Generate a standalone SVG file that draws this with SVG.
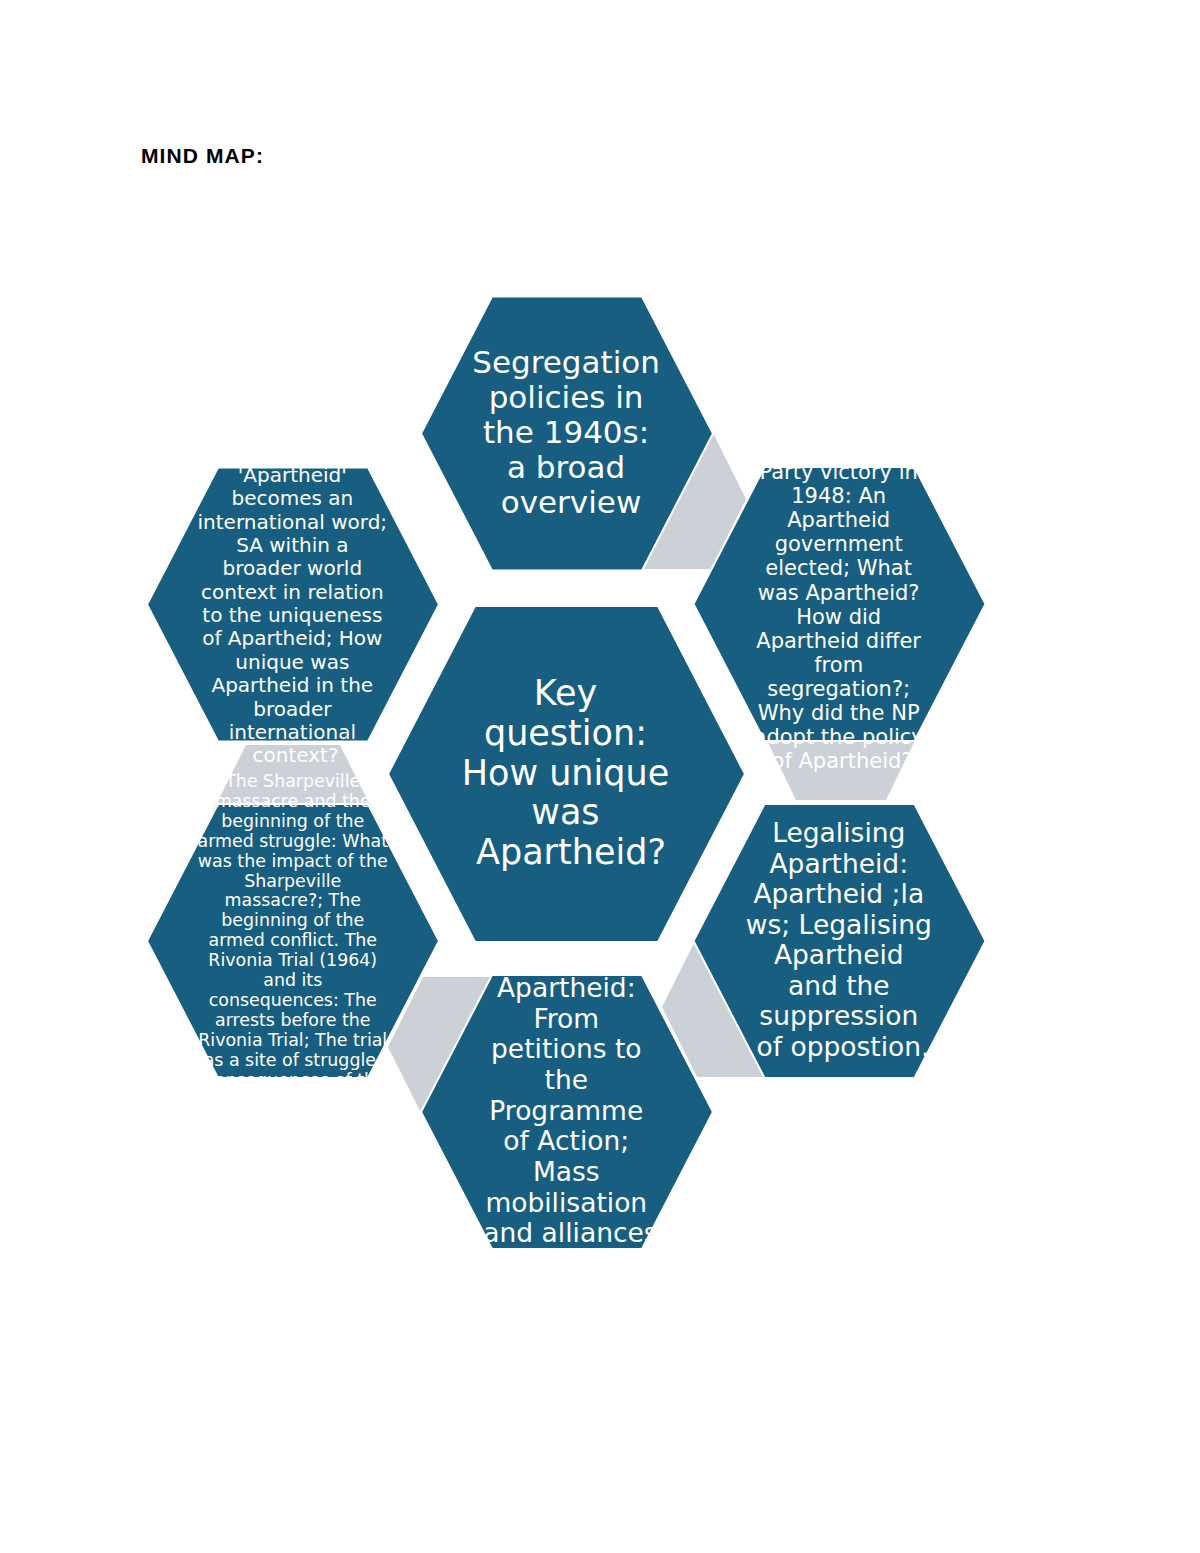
<svg xmlns="http://www.w3.org/2000/svg" width="1200" height="1553" viewBox="0 0 1200 1553">
<style>
.hex{fill:#175E80;stroke:#FFFFFF;stroke-width:2;stroke-linejoin:miter}
.con{fill:#CCD1D8;stroke:none}
.t{font-family:"DejaVu Sans","Liberation Sans",sans-serif;fill:#FFFFFF;text-anchor:middle}
.title{font-family:"Liberation Sans",Arial,sans-serif;font-weight:bold;font-size:21px;letter-spacing:1.1px;fill:#000000}
</style>
<rect x="0" y="0" width="1200" height="1553" fill="#FFFFFF"/>
<text class="title" x="141" y="163">MIND MAP:</text>

<g id="connectors">
<polygon class="con" points="621,429 711,429 746,499 711,569 621,569 586,499"/>
<polygon class="con" points="796,660 886,660 920,730 886,800 796,800 762,730"/>
<polygon class="con" points="697,937 787,937 822,1007 787,1077 697,1077 662,1007"/>
<polygon class="con" points="423,977 513,977 548,1047 513,1117 423,1117 388,1047"/>
<polygon class="con" points="246,745 340,745 375,815 340,885 246,885 211,815"/>
</g>

<g id="node-center">
<polygon class="hex" points="475,606 658,606 745,774 658,942 475,942 388,774"/>
</g>
<g id="node-top">
<polygon class="hex" points="492,296.5 642,296.5 713,433.5 642,570.5 492,570.5 421,433.5"/>
</g>
<g id="node-right-top">
<polygon class="hex" points="764.5,467 914.5,467 985.5,604 914.5,741 764.5,741 693.5,604"/>
</g>
<g id="node-right-bottom">
<polygon class="hex" points="764.5,804 914.5,804 985.5,941 914.5,1078 764.5,1078 693.5,941"/>
</g>
<g id="node-bottom">
<polygon class="hex" points="492,975 642,975 713,1112 642,1249 492,1249 421,1112"/>
</g>
<g id="node-left-bottom">
<polygon class="hex" points="218,804 368,804 439,941 368,1078 218,1078 147,941"/>
</g>
<g id="node-left-top">
<polygon class="hex" points="218,467.5 368,467.5 439,604.5 368,741.5 218,741.5 147,604.5"/>
</g>

<g id="labels">
<text class="t" font-size="35">
<tspan x="571" y="705">Key</tspan>
<tspan x="571" y="745">question:</tspan>
<tspan x="571" y="785">How unique</tspan>
<tspan x="571" y="824">was</tspan>
<tspan x="571" y="864">Apartheid?</tspan>
</text>
<text class="t" font-size="31">
<tspan x="571" y="373">Segregation</tspan>
<tspan x="571" y="408">policies in</tspan>
<tspan x="571" y="443">the 1940s:</tspan>
<tspan x="571" y="478">a broad</tspan>
<tspan x="571" y="513">overview</tspan>
</text>
<text class="t" font-size="21">
<tspan x="842" y="479">Party victory in</tspan>
<tspan x="842" y="503">1948: An</tspan>
<tspan x="842" y="527">Apartheid</tspan>
<tspan x="842" y="551">government</tspan>
<tspan x="842" y="575">elected; What</tspan>
<tspan x="842" y="600">was Apartheid?</tspan>
<tspan x="842" y="624">How did</tspan>
<tspan x="842" y="648">Apartheid differ</tspan>
<tspan x="842" y="672">from</tspan>
<tspan x="842" y="696">segregation?;</tspan>
<tspan x="842" y="720">Why did the NP</tspan>
<tspan x="842" y="744">adopt the policy</tspan>
<tspan x="842" y="768">of Apartheid?</tspan>
</text>
<text class="t" font-size="26.5">
<tspan x="843" y="842">Legalising</tspan>
<tspan x="843" y="873">Apartheid:</tspan>
<tspan x="843" y="903">Apartheid ;la</tspan>
<tspan x="843" y="934">ws; Legalising</tspan>
<tspan x="843" y="964">Apartheid</tspan>
<tspan x="843" y="995">and the</tspan>
<tspan x="843" y="1025">suppression</tspan>
<tspan x="843" y="1056">of oppostion.</tspan>
</text>
<text class="t" font-size="26.5">
<tspan x="570.5" y="997">Apartheid:</tspan>
<tspan x="570.5" y="1028">From</tspan>
<tspan x="570.5" y="1058">petitions to</tspan>
<tspan x="570.5" y="1089">the</tspan>
<tspan x="570.5" y="1120">Programme</tspan>
<tspan x="570.5" y="1150">of Action;</tspan>
<tspan x="570.5" y="1181">Mass</tspan>
<tspan x="570.5" y="1212">mobilisation</tspan>
<tspan x="570.5" y="1242">and alliances</tspan>
</text>
<text class="t" font-size="17.4">
<tspan x="295.5" y="787">The Sharpeville</tspan>
<tspan x="295.5" y="807">massacre and the</tspan>
<tspan x="295.5" y="827">beginning of the</tspan>
<tspan x="295.5" y="847">armed struggle: What</tspan>
<tspan x="295.5" y="867">was the impact of the</tspan>
<tspan x="295.5" y="887">Sharpeville</tspan>
<tspan x="295.5" y="906">massacre?; The</tspan>
<tspan x="295.5" y="926">beginning of the</tspan>
<tspan x="295.5" y="946">armed conflict. The</tspan>
<tspan x="295.5" y="966">Rivonia Trial (1964)</tspan>
<tspan x="295.5" y="986">and its</tspan>
<tspan x="295.5" y="1006">consequences: The</tspan>
<tspan x="295.5" y="1026">arrests before the</tspan>
<tspan x="295.5" y="1046">Rivonia Trial; The trial</tspan>
<tspan x="295.5" y="1066">as a site of struggle;</tspan>
<tspan x="295.5" y="1086">consequences of the</tspan>
</text>
<text class="t" font-size="20">
<tspan x="295.5" y="482">'Apartheid'</tspan>
<tspan x="295.5" y="505">becomes an</tspan>
<tspan x="295.5" y="529">international word;</tspan>
<tspan x="295.5" y="552">SA within a</tspan>
<tspan x="295.5" y="575">broader world</tspan>
<tspan x="295.5" y="599">context in relation</tspan>
<tspan x="295.5" y="622">to the uniqueness</tspan>
<tspan x="295.5" y="645">of Apartheid; How</tspan>
<tspan x="295.5" y="669">unique was</tspan>
<tspan x="295.5" y="692">Apartheid in the</tspan>
<tspan x="295.5" y="716">broader</tspan>
<tspan x="295.5" y="739">international</tspan>
<tspan x="295.5" y="762">context?</tspan>
</text>
</g>
</svg>
